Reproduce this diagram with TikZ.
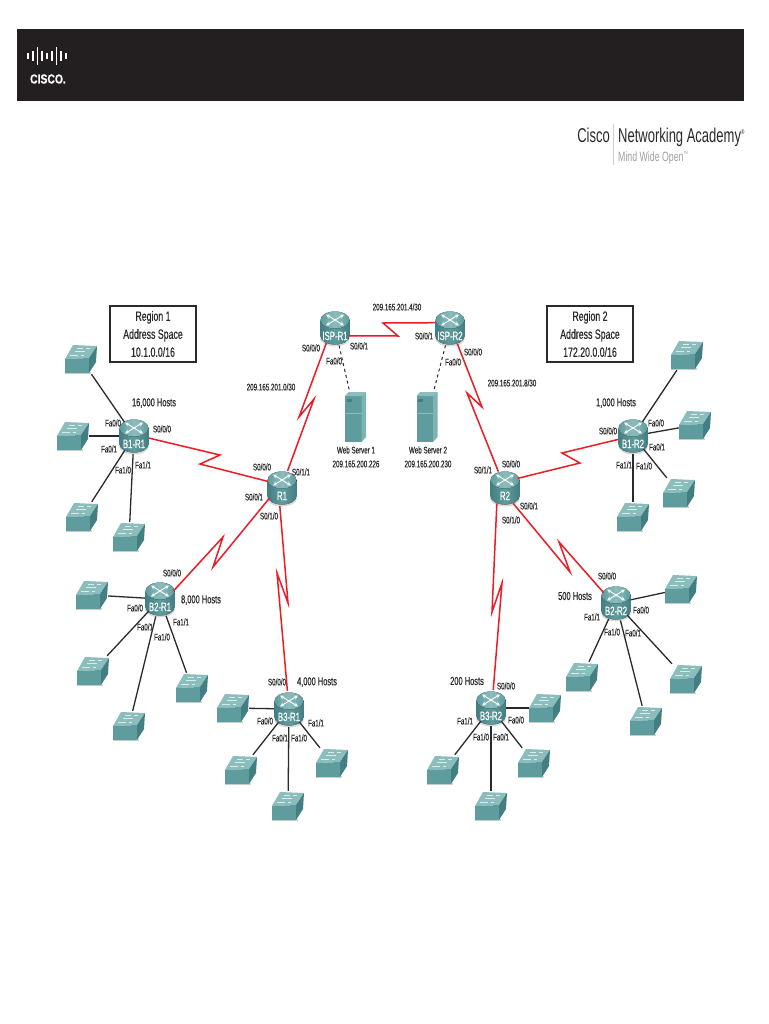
\documentclass[tikz,border=0pt]{standalone}
\usepackage{fontspec}
\usepackage{xcolor}
\usetikzlibrary{shapes.geometric}
\newfontfamily\netfont[FakeStretch=0.65,FakeBold=0.5]{Liberation Sans}
\newfontfamily\logofont[FakeStretch=0.65]{Liberation Sans}
\newfontfamily\capsfont[FakeStretch=0.8,FakeBold=0.6]{Liberation Sans Bold}
\definecolor{barblack}{HTML}{231F20}
\definecolor{teallight}{HTML}{8CBDBD}
\definecolor{tealmid}{HTML}{5F9C9E}
\definecolor{tealdark}{HTML}{437F82}
\definecolor{serialred}{HTML}{EC1C24}
\definecolor{inktext}{HTML}{2A2A2A}
% router: name, x, y, text
\newcommand{\routernode}[4]{
  \begin{scope}[shift={(#2,#3)}]
    \fill[gray!30] (0,10) ellipse [x radius=15, y radius=8.5];
    \fill[left color=tealdark, right color=tealdark, middle color=tealmid] (0,8) ellipse [x radius=14.5, y radius=8.5];
    \fill[left color=tealdark, right color=tealdark, middle color=tealmid] (-14.5,-8) rectangle (14.5,8);
    \fill[left color=tealmid, right color=tealmid, middle color=teallight] (0,-8) ellipse [x radius=14.5, y radius=8.5];
    \draw[white, line width=0.9, stealth-stealth] (-9,-13.5) -- (9,-2.5);
    \draw[white, line width=0.9, stealth-stealth] (9,-13.5) -- (-9,-2.5);
  \end{scope}
  \node[router] (#1) at (#2,#3) {\smash{\raisebox{-12pt}{\makebox[0pt]{#4}}}};
}
\tikzset{
  router/.style={ellipse, inner sep=0pt, minimum width=30, minimum height=36,
    text=white, font=\netfont\fontsize{12}{12}\selectfont},
  switchbox/.style={rectangle, inner sep=0pt, minimum width=32, minimum height=30,
    path picture={
      \begin{scope}[shift={(path picture bounding box.center)}]
        \fill[gray!35] (-16,13) rectangle (10,15);
        \fill[teallight] (-8,-14) -- (16,-13) -- (8,-1) -- (-16,0) -- cycle;
        \fill[tealmid] (-16,0) -- (8,-1) -- (8,14) -- (-16,14) -- cycle;
        \fill[tealdark] (8,-1) -- (16,-13) -- (15,3) -- (8,14) -- cycle;
        \draw[white!85!teal, line width=0.8] (-4,-11) -- (2,-11) (5,-11) -- (9,-11);
        \draw[white!85!teal, line width=0.8] (-6,-7.5) -- (4,-7.5);
        \draw[white!85!teal, line width=0.8] (-11,-4) -- (-3,-4) (0,-4) -- (3,-4);
      \end{scope}
    }},
  server/.style={rectangle, inner sep=0pt, minimum width=21, minimum height=50,
    path picture={
      \begin{scope}[shift={(path picture bounding box.center)}]
        \fill[tealmid] (-10.5,-21) rectangle (6,25);
        \fill[teallight] (-10.5,-21) -- (-7,-25) -- (10.5,-25) -- (6,-21) -- cycle;
        \fill[teallight!70!tealmid] (6,-21) -- (10.5,-25) -- (10.5,20) -- (6,25) -- cycle;
        \fill[tealdark] (-9,-18) rectangle (-4,-15);
        \draw[teallight, line width=0.5] (-10.5,-4) -- (6,-4);
      \end{scope}
    }},
  serial/.style={draw=serialred, line width=1.5, line join=miter},
  fastlink/.style={draw=inktext, line width=1.3},
  serverlink/.style={draw=inktext, line width=1, dashed},
  portlabel/.style={inner sep=0pt, text=inktext, font=\netfont\fontsize{9.6}{10}\selectfont},
  hostlabel/.style={inner sep=0pt, text=inktext, font=\netfont\fontsize{11.5}{12}\selectfont},
  regionbox/.style={draw=inktext, line width=1.2, inner sep=0pt, minimum width=86, minimum height=56,
    align=center, text=inktext, font=\netfont\fontsize{13.5}{18}\selectfont}
}
\begin{document}
\begin{tikzpicture}[x=1pt, y=-1pt]
\useasboundingbox (0,0) rectangle (768,1024);

% === Header ===
\node[fill=barblack, inner sep=0pt, minimum width=727, minimum height=72] (headerbar) at (380.5,65) {};
\foreach \c/\h [count=\i] in {28/6, 32.7/10, 37.5/18, 42.2/10, 47/6, 51.7/10, 56.5/18, 61.2/10, 66/6} {
  \draw[white, line width=1.6] (\c, 56.5-\h/2) -- (\c, 56.5+\h/2);
}
\node[inner sep=0pt, text=white, font=\capsfont\fontsize{13}{13}\selectfont] (ciscoword) at (48,79) {CISCO.};
\node[inner sep=0pt, anchor=east, text=inktext, font=\logofont\fontsize{20}{20}\selectfont] (academyleft) at (610,135) {Cisco};
\node[inner sep=0pt, anchor=west, text=inktext, font=\logofont\fontsize{20}{20}\selectfont] (academyright) at (618,137) {Networking Academy\textsuperscript{\scriptsize®}};
\node[inner sep=0pt, anchor=west, text=gray!75, font=\logofont\fontsize{13.5}{14}\selectfont] (academytag) at (618,158) {Mind Wide Open\textsuperscript{\scriptsize™}};
\draw[gray!40, line width=0.6] (613.5,124) -- (613.5,165);

% === Routers ===
\routernode{ISP-R1}{335}{328}{ISP-R1}
\routernode{ISP-R2}{450}{328}{ISP-R2}
\routernode{R1}{282}{488}{R1}
\routernode{R2}{505}{488}{R2}
\routernode{B1-R1}{134}{436}{B1-R1}
\routernode{B1-R2}{633}{436}{B1-R2}
\routernode{B2-R1}{160}{599}{B2-R1}
\routernode{B2-R2}{616}{603}{B2-R2}
\routernode{B3-R1}{289}{709}{B3-R1}
\routernode{B3-R2}{491}{708}{B3-R2}

% === Servers ===
\node[server] (WS1) at (355.5,417) {};
\node[server] (WS2) at (427,417) {};
\draw[serverlink] (ISP-R1) -- (WS1);
\draw[serverlink] (ISP-R2) -- (WS2);

% === Serial links ===
\draw[serial] (ISP-R1.-30) -- (398,336) -- (383,323) -- (ISP-R2.160);
\draw[serial] (R1.72) -- (314,399) -- (299,417) -- (ISP-R1.-120);
\draw[serial] (ISP-R2.-65) -- (482,407) -- (467,393) -- (R2.112);
\draw[serial] (B1-R1.-8) -- (220,455) -- (200,464) -- (R1.155);
\draw[serial] (R2.37) -- (580,463) -- (562,453) -- (B1-R2.193);
\draw[serial] (R1.219) -- (213,567) -- (223,537) -- (B2-R1.31);
\draw[serial] (R1.263) -- (288,603) -- (277,573) -- (B3-R1.95);
\draw[serial] (R2.-62) -- (570,572) -- (559,542) -- (B2-R2.140);
\draw[serial] (R2.242) -- (492,612) -- (502,583) -- (B3-R2.83);

% === Switches, hung off each router ===
\foreach \sw/\x/\y/\up in {
  a1/81/359/B1-R1, a2/73/436/B1-R1, a3/82/517/B1-R1, a4/129/537/B1-R1,
  b1/92/595/B2-R1, b2/93/671/B2-R1, b3/192/688/B2-R1, b4/129/726/B2-R1,
  c1/233/708/B3-R1, c2/241/770/B3-R1, c3/332/763/B3-R1, c4/288/806/B3-R1,
  d1/687/355/B1-R2, d2/695/425/B1-R2, d3/679/493/B1-R2, d4/633/517/B1-R2,
  e1/681/589/B2-R2, e2/582/677/B2-R2, e3/686/679/B2-R2, e4/646/721/B2-R2,
  f1/545/708/B3-R2, f2/443/770/B3-R2, f3/534/763/B3-R2, f4/491/806/B3-R2} {
  \node[switchbox] (\sw) at (\x,\y) {};
  \draw[fastlink] (\up) -- (\sw);
}

% === Region boxes ===
\node[regionbox] (region1) at (153,334) {Region 1\\Address Space\\10.1.0.0/16};
\node[regionbox] (region2) at (590,334) {Region 2\\Address Space\\172.20.0.0/16};

% === Host counts ===
\foreach \x/\y/\t [count=\i] in {154/403/{16,000 Hosts}, 201/600/{8,000 Hosts}, 317/682/{4,000 Hosts},
  616/403/{1,000 Hosts}, 575/596/{500 Hosts}, 467/681/{200 Hosts}} {
  \node[hostlabel] (hosts\i) at (\x,\y) {\t};
}

% === Port and network labels ===
\foreach \x/\y/\t [count=\i] in {
  397/307/{209.165.201.4/30}, 271/387/{209.165.201.0/30}, 512/383/{209.165.201.8/30},
  311/348/{S0/0/0}, 359/346/{S0/0/1}, 424/336/{S0/0/1}, 473/352/{S0/0/0},
  334/361/{Fa0/0}, 453/362/{Fa0/0},
  356/450/{Web Server 1}, 356/464/{209.165.200.226},
  428/450/{Web Server 2}, 428/464/{209.165.200.230},
  262/467/{S0/0/0}, 301/472/{S0/1/1}, 254/497/{S0/0/1}, 269/516/{S0/1/0},
  483/470/{S0/1/1}, 511/464/{S0/0/0}, 529/506/{S0/0/1}, 511/520/{S0/1/0},
  113/423/{Fa0/0}, 162/429/{S0/0/0}, 109/449/{Fa0/1}, 123/470/{Fa1/0}, 143/465/{Fa1/1},
  172/573/{S0/0/0}, 135/608/{Fa0/0}, 145/627/{Fa0/1}, 181/622/{Fa1/1}, 162/637/{Fa1/0},
  277/682/{S0/0/0}, 265/721/{Fa0/0}, 316/723/{Fa1/1}, 280/738/{Fa0/1}, 299/738/{Fa1/0},
  607/576/{S0/0/0}, 592/617/{Fa1/1}, 641/610/{Fa0/0}, 612/632/{Fa1/0}, 633/633/{Fa0/1},
  506/686/{S0/0/0}, 465/721/{Fa1/1}, 516/720/{Fa0/0}, 481/737/{Fa1/0}, 501/737/{Fa0/1},
  608/431/{S0/0/0}, 656/423/{Fa0/0}, 657/447/{Fa0/1}, 624/465/{Fa1/1}, 644/466/{Fa1/0}} {
  \node[portlabel] (port\i) at (\x,\y) {\t};
}
\end{tikzpicture}
\end{document}
